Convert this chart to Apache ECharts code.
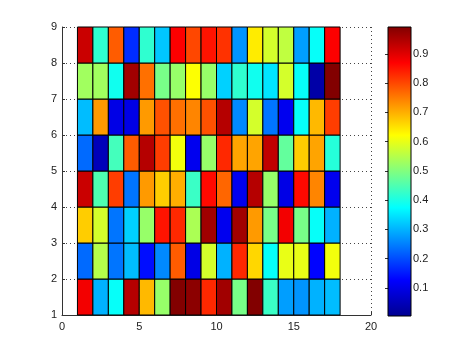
<!DOCTYPE html>
<html>
<head>
<meta charset="utf-8">
<script src="https://cdn.jsdelivr.net/npm/echarts@6/dist/echarts.min.js"></script>
<style>
  html, body { margin: 0; padding: 0; background: #fff; }
  #chart { width: 474px; height: 354px; }
</style>
</head>
<body>
<div id="chart"></div>
<script>
// cell values, one row per y band (bottom row first), columns x = 1..17
var rows = [
  [0.88, 0.30, 0.38, 0.94, 0.69, 0.52, 0.99, 0.98, 0.83, 0.96, 0.49, 0.99, 0.43, 0.28, 0.27, 0.30, 0.31], // y 1-2
  [0.23, 0.55, 0.24, 0.31, 0.14, 0.26, 0.78, 0.10, 0.58, 0.30, 0.83, 0.66, 0.38, 0.60, 0.60, 0.13, 0.61], // y 2-3
  [0.67, 0.58, 0.24, 0.33, 0.52, 0.85, 0.83, 0.54, 0.96, 0.11, 0.96, 0.72, 0.49, 0.88, 0.49, 0.38, 0.30], // y 3-4
  [0.92, 0.45, 0.81, 0.24, 0.72, 0.67, 0.70, 0.43, 0.86, 0.77, 0.11, 0.94, 0.52, 0.10, 0.86, 0.74, 0.11], // y 4-5
  [0.23, 0.05, 0.44, 0.78, 0.94, 0.81, 0.61, 0.11, 0.52, 0.83, 0.71, 0.71, 0.93, 0.47, 0.67, 0.71, 0.41], // y 5-6
  [0.31, 0.72, 0.10, 0.10, 0.72, 0.79, 0.76, 0.74, 0.79, 0.94, 0.26, 0.58, 0.24, 0.11, 0.38, 0.69, 0.81], // y 6-7
  [0.53, 0.53, 0.39, 0.96, 0.76, 0.49, 0.52, 0.62, 0.52, 0.33, 0.42, 0.39, 0.35, 0.58, 0.38, 0.03, 0.99], // y 7-8
  [0.92, 0.42, 0.78, 0.17, 0.42, 0.32, 0.87, 0.80, 0.85, 0.82, 0.27, 0.64, 0.58, 0.56, 0.28, 0.38, 0.87]  // y 8-9
];
var cbarRange = [0.004, 0.992];
var cbarTicks = [0.1, 0.2, 0.3, 0.4, 0.5, 0.6, 0.7, 0.8, 0.9];
var jet = ['#00008F', '#0000FF', '#0080FF', '#00FFFF', '#80FF80', '#FFFF00', '#FF8000', '#FF0000', '#800000'];

var cells = [];
for (var r = 0; r < rows.length; r++) {
  for (var c = 0; c < rows[r].length; c++) {
    cells.push([c + 1, r + 1, rows[r][c]]);
  }
}

var txt = { color: '#222', fontSize: 11, fontFamily: 'Liberation Sans, Arial, sans-serif' };
var axLine = { lineStyle: { color: '#333', width: 1 } };

var chart = echarts.init(document.getElementById('chart'));
chart.setOption({
  animation: false,
  grid: [
    { left: 62, top: 27, width: 309, height: 288 },
    { left: 388, top: 27, width: 23, height: 289 }
  ],
  xAxis: [
    {
      gridIndex: 0, type: 'value', min: 0, max: 20, interval: 5,
      axisLine: axLine,
      axisTick: { inside: true, length: 3, lineStyle: { color: '#333' } },
      axisLabel: Object.assign({ margin: 6 }, txt),
      splitLine: { show: true, lineStyle: { type: [1, 3], color: '#444' } }
    },
    { gridIndex: 1, type: 'value', min: 0, max: 1, show: false }
  ],
  yAxis: [
    {
      gridIndex: 0, type: 'value', min: 1, max: 9, interval: 1,
      axisLine: axLine,
      axisTick: { inside: true, length: 3, lineStyle: { color: '#333' } },
      axisLabel: Object.assign({ margin: 5 }, txt),
      splitLine: { show: true, lineStyle: { type: [1, 3], color: '#444' } }
    },
    {
      gridIndex: 1, type: 'value', min: cbarRange[0], max: cbarRange[1], position: 'right',
      axisLine: { show: false },
      axisTick: { show: true, inside: true, length: 3, customValues: cbarTicks, lineStyle: { color: '#333' } },
      axisLabel: Object.assign({ margin: 2, customValues: cbarTicks, formatter: function (v) { return String(v); } }, txt),
      splitLine: { show: false }
    }
  ],
  visualMap: {
    show: false, type: 'continuous', seriesIndex: 0, dimension: 2,
    min: cbarRange[0], max: cbarRange[1],
    inRange: { color: jet }
  },
  series: [
    {
      type: 'custom', xAxisIndex: 0, yAxisIndex: 0, data: cells,
      renderItem: function (params, api) {
        var p0 = api.coord([api.value(0), api.value(1) + 1]);
        var p1 = api.coord([api.value(0) + 1, api.value(1)]);
        return {
          type: 'rect',
          shape: { x: p0[0], y: p0[1], width: p1[0] - p0[0], height: p1[1] - p0[1] },
          style: { fill: api.visual('color'), stroke: '#000', lineWidth: 1 }
        };
      }
    },
    {
      type: 'custom', xAxisIndex: 1, yAxisIndex: 1, data: [[0, 1]],
      renderItem: function (params, api) {
        var p0 = api.coord([0, cbarRange[1]]);
        var p1 = api.coord([1, cbarRange[0]]);
        var stops = jet.map(function (col, i) {
          return { offset: 1 - i / (jet.length - 1), color: col };
        }).reverse();
        return {
          type: 'rect',
          shape: { x: p0[0], y: p0[1], width: p1[0] - p0[0], height: p1[1] - p0[1] },
          style: {
            fill: new echarts.graphic.LinearGradient(0, 0, 0, 1, stops),
            stroke: '#000', lineWidth: 1
          }
        };
      }
    }
  ]
});
</script>
</body>
</html>
